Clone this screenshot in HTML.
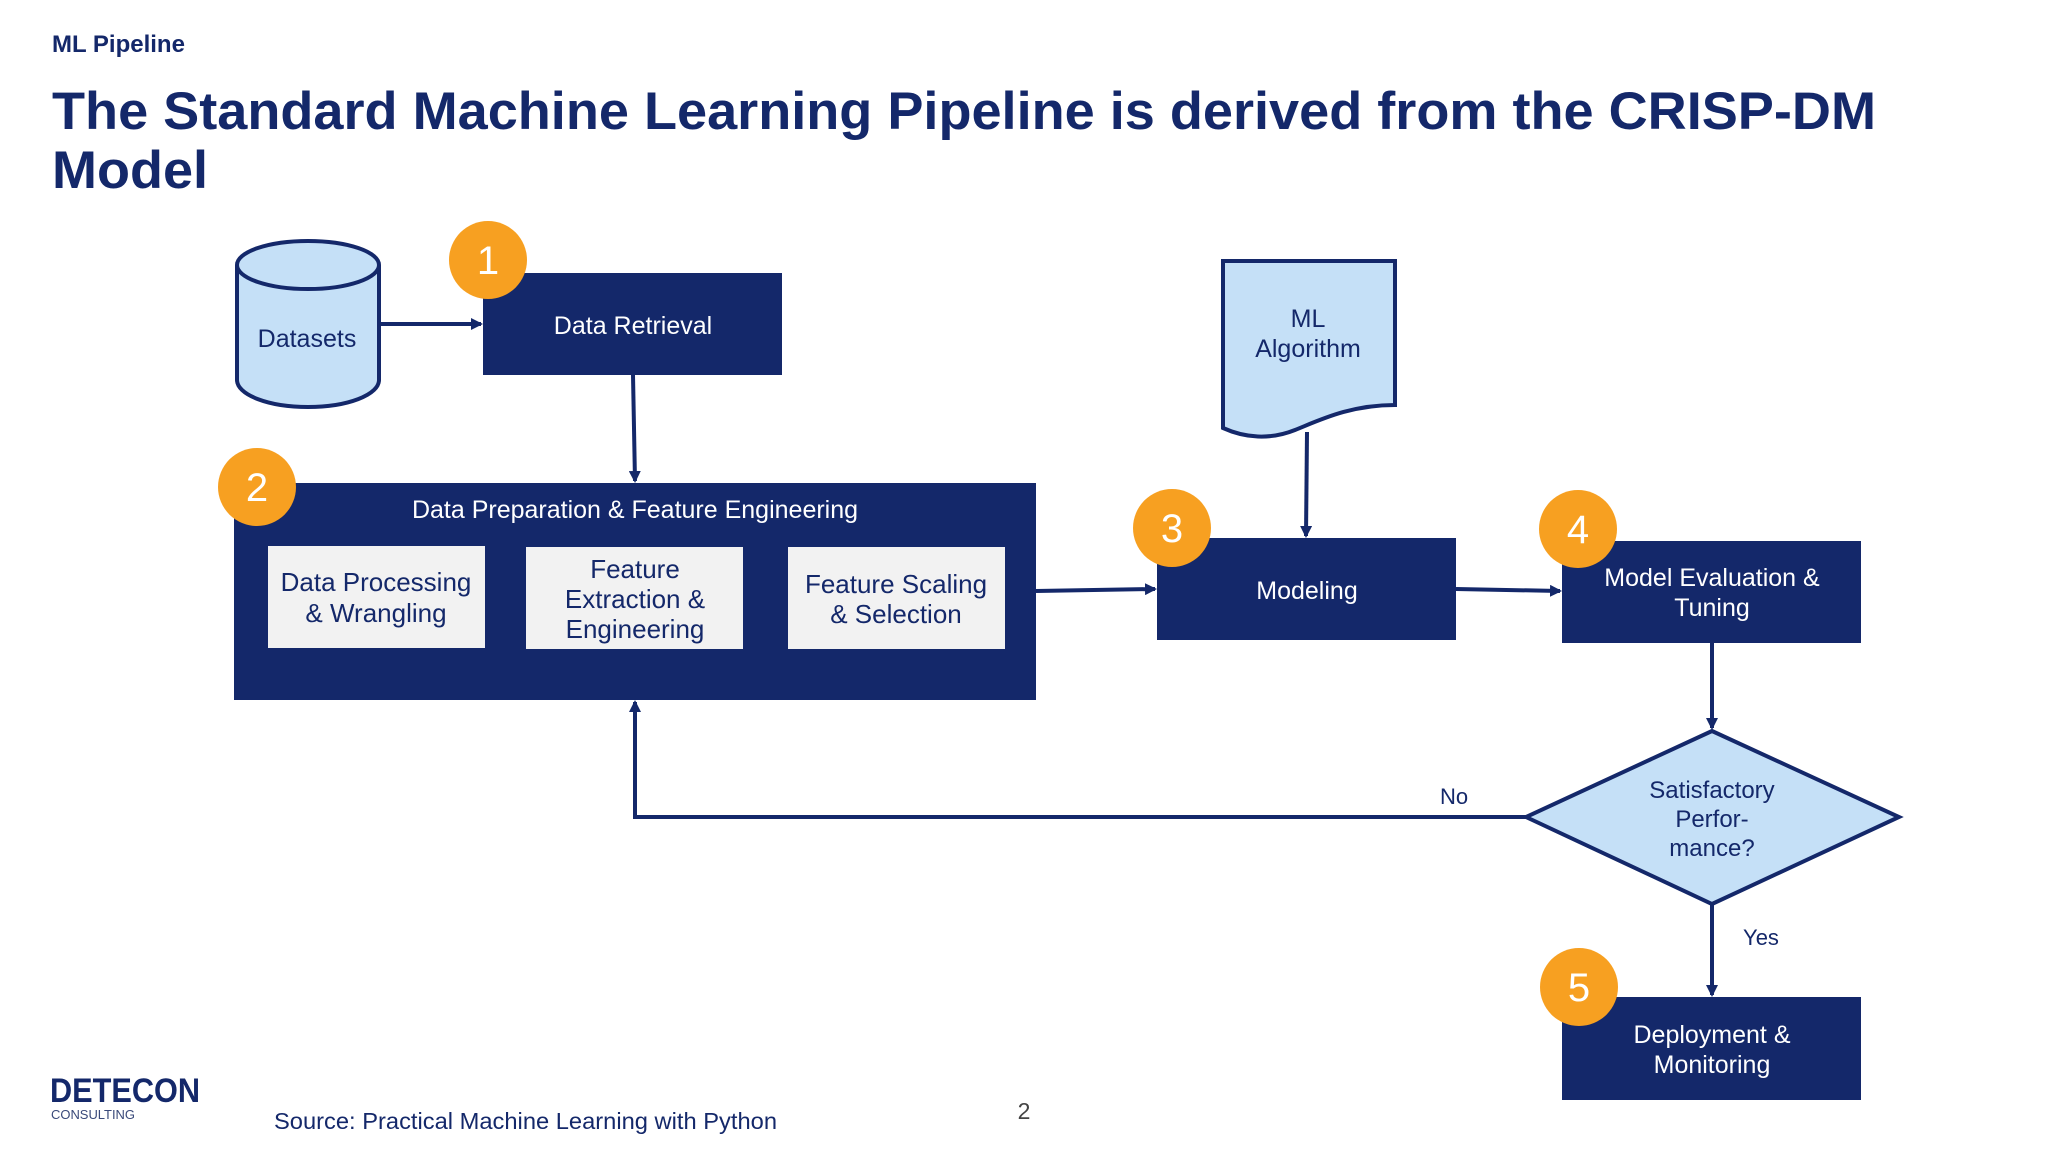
<!DOCTYPE html>
<html><head><meta charset="utf-8">
<style>
html,body{margin:0;padding:0;background:#fff;}
body{width:2048px;height:1153px;overflow:hidden;position:relative;font-family:"Liberation Sans",Arial,sans-serif;}
</style></head>
<body>
<svg width="2048" height="1153" viewBox="0 0 2048 1153" xmlns="http://www.w3.org/2000/svg" font-family="Liberation Sans, Arial, sans-serif">
<defs>
<marker id="ar" markerWidth="12" markerHeight="12" refX="10" refY="6" orient="auto" markerUnits="userSpaceOnUse">
<path d="M0,0 L12,6 L0,12 z" fill="#14286a"/>
</marker>
</defs>
<rect width="2048" height="1153" fill="#fff"/>
<text x="52" y="52" font-size="24" font-weight="bold" fill="#14286a">ML Pipeline</text>
<text x="52" y="129" font-size="53" font-weight="bold" fill="#14286a" textLength="1824" lengthAdjust="spacingAndGlyphs">The Standard Machine Learning Pipeline is derived from the CRISP-DM</text>
<text x="52" y="188" font-size="53" font-weight="bold" fill="#14286a" textLength="156" lengthAdjust="spacingAndGlyphs">Model</text>

<g stroke="#14286a" stroke-width="4" fill="none">
<line x1="379" y1="324" x2="481" y2="324" marker-end="url(#ar)"/>
<line x1="633" y1="375" x2="635" y2="481" marker-end="url(#ar)"/>
<line x1="1036" y1="591" x2="1155" y2="589" marker-end="url(#ar)"/>
<line x1="1456" y1="589" x2="1560" y2="591" marker-end="url(#ar)"/>
<line x1="1307" y1="432" x2="1306" y2="536" marker-end="url(#ar)"/>
<line x1="1712" y1="643" x2="1712" y2="728" marker-end="url(#ar)"/>
<line x1="1712" y1="904" x2="1712" y2="995" marker-end="url(#ar)"/>
<polyline points="1526,817 635,817 635,702" marker-end="url(#ar)"/>
</g>

<path d="M237,265 L237,380 A71,27 0 0 0 379,380 L379,265" fill="#c5e0f7" stroke="#14286a" stroke-width="4"/>
<ellipse cx="308" cy="265" rx="71" ry="24" fill="#c5e0f7" stroke="#14286a" stroke-width="4"/>
<text x="307" y="347" font-size="25" fill="#14286a" text-anchor="middle">Datasets</text>

<rect x="483" y="273" width="299" height="102" fill="#14286a"/>
<text x="633" y="334" font-size="25" fill="#fff" text-anchor="middle">Data Retrieval</text>

<rect x="234" y="483" width="802" height="217" fill="#14286a"/>
<text x="635" y="518" font-size="25" fill="#fff" text-anchor="middle">Data Preparation &amp; Feature Engineering</text>
<rect x="268" y="546" width="217" height="102" fill="#f2f2f2"/>
<text x="376" y="591" font-size="26" fill="#14286a" text-anchor="middle">Data Processing</text>
<text x="376" y="622" font-size="26" fill="#14286a" text-anchor="middle">&amp; Wrangling</text>
<rect x="526" y="547" width="217" height="102" fill="#f2f2f2"/>
<text x="635" y="578" font-size="26" fill="#14286a" text-anchor="middle">Feature</text>
<text x="635" y="608" font-size="26" fill="#14286a" text-anchor="middle">Extraction &amp;</text>
<text x="635" y="638" font-size="26" fill="#14286a" text-anchor="middle">Engineering</text>
<rect x="788" y="547" width="217" height="102" fill="#f2f2f2"/>
<text x="896" y="593" font-size="26" fill="#14286a" text-anchor="middle">Feature Scaling</text>
<text x="896" y="623" font-size="26" fill="#14286a" text-anchor="middle">&amp; Selection</text>

<path d="M1223,261 L1395,261 L1395,405 C1350,405 1320,420 1295,430 C1270,440 1245,438 1223,428 Z" fill="#c5e0f7" stroke="#14286a" stroke-width="4"/>
<text x="1308" y="327" font-size="25" fill="#14286a" text-anchor="middle">ML</text>
<text x="1308" y="357" font-size="25" fill="#14286a" text-anchor="middle">Algorithm</text>

<rect x="1157" y="538" width="299" height="102" fill="#14286a"/>
<text x="1307" y="599" font-size="25" fill="#fff" text-anchor="middle">Modeling</text>

<rect x="1562" y="541" width="299" height="102" fill="#14286a"/>
<text x="1712" y="586" font-size="25" fill="#fff" text-anchor="middle">Model Evaluation &amp;</text>
<text x="1712" y="616" font-size="25" fill="#fff" text-anchor="middle">Tuning</text>

<polygon points="1712,731 1899,817 1712,904 1526,817" fill="#c5e0f7" stroke="#14286a" stroke-width="4"/>
<text x="1712" y="798" font-size="24" fill="#14286a" text-anchor="middle">Satisfactory</text>
<text x="1712" y="827" font-size="24" fill="#14286a" text-anchor="middle">Perfor-</text>
<text x="1712" y="856" font-size="24" fill="#14286a" text-anchor="middle">mance?</text>
<text x="1454" y="804" font-size="22" fill="#14286a" text-anchor="middle">No</text>
<text x="1761" y="945" font-size="22" fill="#14286a" text-anchor="middle">Yes</text>

<rect x="1562" y="997" width="299" height="103" fill="#14286a"/>
<text x="1712" y="1043" font-size="25" fill="#fff" text-anchor="middle">Deployment &amp;</text>
<text x="1712" y="1073" font-size="25" fill="#fff" text-anchor="middle">Monitoring</text>

<g fill="#f7a021">
<circle cx="488" cy="260" r="39"/>
<circle cx="257" cy="487" r="39"/>
<circle cx="1172" cy="528" r="39"/>
<circle cx="1578" cy="529" r="39"/>
<circle cx="1579" cy="987" r="39"/>
</g>
<g fill="#fff" font-size="40" text-anchor="middle">
<text x="488" y="274">1</text>
<text x="257" y="501">2</text>
<text x="1172" y="542">3</text>
<text x="1578" y="543">4</text>
<text x="1579" y="1001">5</text>
</g>

<text x="50" y="1102" font-size="34" font-weight="bold" fill="#14286a" textLength="150" lengthAdjust="spacingAndGlyphs">DETECON</text>
<text x="51" y="1119" font-size="13" fill="#3a4a7a" textLength="84" lengthAdjust="spacingAndGlyphs">CONSULTING</text>
<text x="274" y="1129" font-size="23" fill="#14286a" textLength="503" lengthAdjust="spacingAndGlyphs">Source: Practical Machine Learning with Python</text>
<text x="1024" y="1119" font-size="23" fill="#444" text-anchor="middle">2</text>
</svg>
</body></html>
